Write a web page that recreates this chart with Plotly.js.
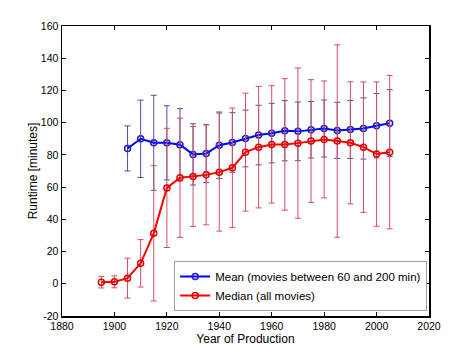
<!DOCTYPE html>
<html>
<head>
<meta charset="utf-8">
<script src="https://cdn.plot.ly/plotly-3.0.1.min.js"></script>
<style>html,body{margin:0;padding:0;background:#fff;}#chart{width:474px;height:355px;}</style>
</head>
<body>
<div id="chart"></div>
<script>
const meanYears = [1905,1910,1915,1920,1925,1930,1935,1940,1945,1950,1955,1960,1965,1970,1975,1980,1985,1990,1995,2000,2005];
const meanValues = [84,90,87.5,87.5,86.3,80.3,80.8,86,87.7,90.2,92.3,93.5,95,94.6,95.6,96.4,95.2,95.8,96.4,98.1,99.7];
const meanErr = [14,24,29.5,23,22.4,19,18,20.6,18.5,17.6,18.5,18.5,18.7,18.2,17.5,17.7,17.4,18,19,20,20.8];

const medianYears = [1895,1900,1905,1910,1915,1920,1925,1930,1935,1940,1945,1950,1955,1960,1965,1970,1975,1980,1985,1990,1995,2000,2005];
const medianValues = [1,1.2,3.5,12.7,31.3,59.5,65.8,66.6,67.6,69.3,72,81.7,84.8,86.5,86.5,87.3,88.6,89.6,88.6,87.5,84.8,80.5,81.7];
const medianErr = [3.6,3.7,12.4,14.7,42,37,37,31,31,36.6,37,36.6,37.7,36.4,40.8,46.6,38.1,36.3,59.7,37.9,40.5,44.8,47.6];

const xTicks = [1880,1900,1920,1940,1960,1980,2000,2020];
const yTicks = [-20,0,20,40,60,80,100,120,140,160];

const traces = [
  {
    x: meanYears, y: meanValues, type: 'scatter', mode: 'lines+markers',
    name: 'Mean (movies between 60 and 200 min)',
    line: {color: '#0000ff', width: 2},
    marker: {symbol: 'circle-open', size: 6, color: '#2020c0', line: {width: 1.5, color: '#2020c0'}},
    error_y: {type: 'data', array: meanErr, visible: true, color: '#5050a8', thickness: 1, width: 3}
  },
  {
    x: medianYears, y: medianValues, type: 'scatter', mode: 'lines+markers',
    name: 'Median (all movies)',
    line: {color: '#ff0000', width: 2},
    marker: {symbol: 'circle-open', size: 6, color: '#e00000', line: {width: 1.5, color: '#e00000'}},
    error_y: {type: 'data', array: medianErr, visible: true, color: '#d05060', thickness: 1, width: 3}
  }
];

const fam = 'Liberation Sans, Arial, Helvetica, sans-serif';
const tickFont = {family: fam, size: 10.5, color: '#000'};
const titleFont = {family: fam, size: 12, color: '#000'};

const layout = {
  width: 474, height: 355,
  margin: {l: 62, r: 45, t: 26, b: 39},
  paper_bgcolor: '#fff', plot_bgcolor: '#fff',
  font: tickFont,
  showlegend: true,
  legend: {
    x: 0.995, y: 0.017, xanchor: 'right', yanchor: 'bottom',
    bgcolor: '#fff', bordercolor: '#a0a0a0', borderwidth: 1,
    font: {family: fam, size: 11.5, color: '#000'},
    tracegroupgap: 0, itemwidth: 30
  },
  xaxis: {
    range: [1880, 2020], tickvals: xTicks, ticktext: xTicks.map(String),
    ticks: 'inside', ticklen: 4, tickcolor: '#000', tickwidth: 1,
    showline: true, linecolor: '#000', linewidth: 1.5, mirror: 'allticks',
    showgrid: false, zeroline: false,
    title: {text: 'Year of Production', font: titleFont, standoff: 1},
    tickfont: tickFont
  },
  yaxis: {
    range: [-20, 160], tickvals: yTicks, ticktext: yTicks.map(String),
    ticks: 'inside', ticklen: 4, tickcolor: '#000', tickwidth: 1,
    showline: true, linecolor: '#000', linewidth: 1.5, mirror: 'allticks',
    showgrid: false, zeroline: false,
    title: {text: 'Runtime [minutes]', font: titleFont, standoff: 0},
    tickfont: tickFont
  }
};

Plotly.newPlot('chart', traces, layout, {displayModeBar: false, staticPlot: true});
</script>
</body>
</html>
